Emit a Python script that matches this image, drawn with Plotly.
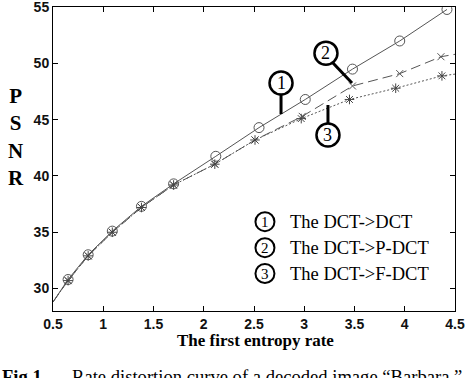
import plotly.graph_objects as go

x_dct = [0.5, 0.65, 0.85, 1.09, 1.38, 1.70, 2.12, 2.55, 3.01, 3.48, 3.95, 4.42]
y_dct = [28.8, 30.8, 33.0, 35.1, 37.3, 39.3, 41.75, 44.3, 46.8, 49.5, 52.0, 54.8]

x_pdct = [0.5, 0.65, 0.85, 1.09, 1.38, 1.70, 2.11, 2.51, 2.98, 3.48, 3.95, 4.36, 4.62]
y_pdct = [28.8, 30.7, 32.9, 35.0, 37.2, 39.2, 41.05, 43.2, 45.3, 48.0, 49.1, 50.6, 51.0]

x_fdct = [0.5, 0.65, 0.85, 1.09, 1.38, 1.70, 2.11, 2.51, 2.97, 3.45, 3.91, 4.37, 4.62]
y_fdct = [28.8, 30.7, 32.9, 35.0, 37.2, 39.2, 41.05, 43.2, 45.1, 46.8, 47.8, 48.9, 49.2]

x_ticks = [0.5, 1, 1.5, 2, 2.5, 3, 3.5, 4, 4.5]
x_labels = ["0.5", "1", "1.5", "2", "2.5", "3", "3.5", "4", "4.5"]
y_ticks = [30, 35, 40, 45, 50, 55]
y_labels = ["30", "35", "40", "45", "50", "55"]
legend_names = ["The DCT->DCT", "The DCT->P-DCT", "The DCT->F-DCT"]

def vis(n, hidden_last=False):
    o = [1.0] * n
    o[0] = 0.0
    if hidden_last:
        o[-1] = 0.0
    return o

fig = go.Figure()
fig.add_trace(go.Scatter(x=x_dct, y=y_dct, mode="lines+markers",
    line=dict(color="#555555", width=1),
    marker=dict(symbol="circle-open", size=10, color="#555555", opacity=vis(len(x_dct)), line=dict(width=1))))
fig.add_trace(go.Scatter(x=x_pdct, y=y_pdct, mode="lines+markers",
    line=dict(color="#555555", width=1, dash="10px,5px"),
    marker=dict(symbol="x-thin-open", size=7, color="#555555", opacity=vis(len(x_pdct), True), line=dict(width=1))))
fig.add_trace(go.Scatter(x=x_fdct, y=y_fdct, mode="lines+markers",
    line=dict(color="#555555", width=1, dash="2px,2px"),
    marker=dict(symbol="asterisk-open", size=8, color="#444444", opacity=vis(len(x_fdct), True), line=dict(width=1))))

shapes = []
annotations = []
serif = "Liberation Serif"

def circ(xc, yc, d, num, fsize, lw=2):
    shapes.append(dict(type="circle", xref="x", yref="y", xsizemode="pixel", ysizemode="pixel",
                       xanchor=xc, yanchor=yc, x0=-d/2, x1=d/2, y0=-d/2, y1=d/2,
                       line=dict(color="black", width=lw), fillcolor="white"))
    annotations.append(dict(x=xc, y=yc, xref="x", yref="y", text=num, showarrow=False,
                            font=dict(family=serif, size=fsize, color="black"),
                            xanchor="center", yanchor="middle"))

# callouts
shapes.append(dict(type="line", xref="x", yref="y", x0=2.769, x1=2.769, y0=47.29, y1=45.51, line=dict(color="black", width=3)))
shapes.append(dict(type="line", xref="x", yref="y", x0=3.286, x1=3.475, y0=50.04, y1=48.26, line=dict(color="black", width=3)))
shapes.append(dict(type="line", xref="x", yref="y", x0=3.236, x1=3.236, y0=44.63, y1=46.31, line=dict(color="black", width=3)))
circ(2.769, 48.26, 23, "1", 18, 2.5)
circ(3.216, 50.92, 23, "2", 18, 2.5)
circ(3.236, 43.65, 23, "3", 18, 2.5)

# legend
for i, (yc, name) in enumerate(zip([35.94, 33.63, 31.33], legend_names)):
    circ(2.609, yc, 19, str(i + 1), 15, 2)
    annotations.append(dict(x=2.835, y=yc, xref="x", yref="y", text=name, showarrow=False,
                            xanchor="left", yanchor="middle",
                            font=dict(family=serif, size=18.5, color="black")))

W, H = 474, 378
L, R, T, B = 53, 19, 7, 67
pw, ph = W - L - R, H - T - B
def px(xp, yp):
    return (xp - L) / pw, 1 - (yp - T) / ph

ax, ay = px(16, 137)
annotations.append(dict(x=ax, y=ay, xref="paper", yref="paper", text="<b>P<br>S<br>N<br>R</b>",
                        showarrow=False, xanchor="center", yanchor="middle",
                        font=dict(family=serif, size=21, color="black")))
tx, ty = px(255, 340)
annotations.append(dict(x=tx, y=ty, xref="paper", yref="paper", text="<b>The first entropy rate</b>",
                        showarrow=False, xanchor="center", yanchor="middle",
                        font=dict(family=serif, size=17, color="black")))
cx, cy = px(0, 364)
annotations.append(dict(x=cx, y=cy, xref="paper", yref="paper", text="<b>Fig.1</b>",
                        showarrow=False, xanchor="left", yanchor="top",
                        font=dict(family=serif, size=18.6, color="black")))
cx2, _ = px(70, 364)
annotations.append(dict(x=cx2, y=cy, xref="paper", yref="paper",
                        text="Rate distortion curve of a decoded image “Barbara.”",
                        showarrow=False, xanchor="left", yanchor="top",
                        font=dict(family=serif, size=18.6, color="black")))
fig.update_layout(annotations=annotations, shapes=shapes)

axis_common = dict(showline=True, linecolor="black", linewidth=1, mirror="ticks", ticks="inside",
                   ticklen=5, tickcolor="black", showgrid=False, zeroline=False, automargin=False,
                   ticklabeloverflow="allow",
                   tickfont=dict(family="Liberation Sans", size=14, color="#111111", weight="bold"))
fig.update_xaxes(range=[0.5, 4.5], tickvals=x_ticks, ticktext=x_labels, **axis_common)
fig.update_yaxes(range=[28, 55.02], tickvals=y_ticks, ticktext=y_labels, **axis_common)

fig.update_layout(width=W, height=H, margin=dict(l=L, r=R, t=T, b=B, pad=0),
                  paper_bgcolor="white", plot_bgcolor="white", showlegend=False)
fig.write_html("out.html", config={"displayModeBar": False},
               post_script="document.body.style.margin='0';document.body.style.overflow='hidden';")
